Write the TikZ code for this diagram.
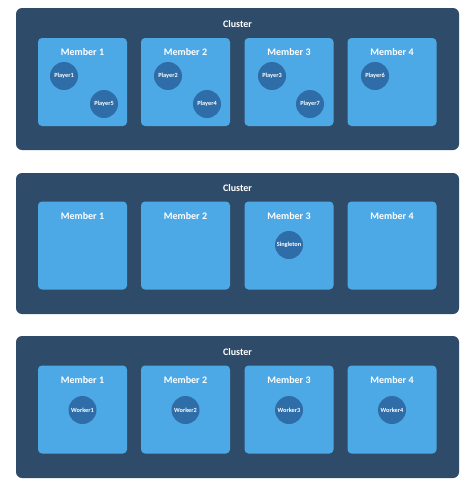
\documentclass[tikz,border=0pt]{standalone}
\usepackage{fontspec}
\setmainfont{Carlito}
\definecolor{clusterc}{HTML}{2E4B69}
\definecolor{memberc}{HTML}{4DA9E6}
\definecolor{circc}{HTML}{2E6DA8}
\tikzset{
  clusterbox/.style={fill=clusterc, rounded corners=6pt},
  memberbox/.style={fill=memberc, rounded corners=4pt, minimum width=89pt, minimum height=88pt, inner sep=0pt},
  titletext/.style={text=white, font=\bfseries\fontsize{10}{12}\selectfont, inner sep=0pt},
  actor/.style={circle, fill=circc, minimum size=28pt, inner sep=0pt, text=white, font=\bfseries\fontsize{6.3}{7}\selectfont}
}
\begin{document}
\begin{tikzpicture}[x=1pt,y=-1pt]
\useasboundingbox (0,0) rectangle (474,493);
% Cluster 1
\fill[clusterc, rounded corners=6pt] (16,8) rectangle (459,150);
\node[titletext] (c1t) at (237.5,24) {Cluster};
\node[memberbox] (a1) at (82.5,82) {};
\node[memberbox] (a2) at (185.5,82) {};
\node[memberbox] (a3) at (289,82) {};
\node[memberbox] (a4) at (392,82) {};
\node[titletext] (a1t) at (82.5,52) {Member 1};
\node[titletext] (a2t) at (185.5,52) {Member 2};
\node[titletext] (a3t) at (289,52) {Member 3};
\node[titletext] (a4t) at (392,52) {Member 4};
\node[actor] (p1) at (64,76) {Player1};
\node[actor] (p5) at (104,104) {Player5};
\node[actor] (p2) at (168,76) {Player2};
\node[actor] (p4) at (207,104) {Player4};
\node[actor] (p3) at (272,76) {Player3};
\node[actor] (p7) at (310,104) {Player7};
\node[actor] (p6) at (375,76) {Player6};
% Cluster 2
\fill[clusterc, rounded corners=6pt] (16,173) rectangle (459,314);
\node[titletext] (c2t) at (237.5,188) {Cluster};
\node[memberbox] (b1) at (82.5,245.5) {};
\node[memberbox] (b2) at (185.5,245.5) {};
\node[memberbox] (b3) at (289,245.5) {};
\node[memberbox] (b4) at (392,245.5) {};
\node[titletext] (b1t) at (82.5,216) {Member 1};
\node[titletext] (b2t) at (185.5,216) {Member 2};
\node[titletext] (b3t) at (289,216) {Member 3};
\node[titletext] (b4t) at (392,216) {Member 4};
\node[actor] (s) at (289,245) {Singleton};
% Cluster 3
\fill[clusterc, rounded corners=6pt] (16,336) rectangle (459,478);
\node[titletext] (c3t) at (237.5,352) {Cluster};
\node[memberbox] (d1) at (82.5,409.5) {};
\node[memberbox] (d2) at (185.5,409.5) {};
\node[memberbox] (d3) at (289,409.5) {};
\node[memberbox] (d4) at (392,409.5) {};
\node[titletext] (d1t) at (82.5,380) {Member 1};
\node[titletext] (d2t) at (185.5,380) {Member 2};
\node[titletext] (d3t) at (289,380) {Member 3};
\node[titletext] (d4t) at (392,380) {Member 4};
\node[actor] (w1) at (82.5,410) {Worker1};
\node[actor] (w2) at (185.5,410) {Worker2};
\node[actor] (w3) at (289,410) {Worker3};
\node[actor] (w4) at (392,410) {Worker4};
\end{tikzpicture}
\end{document}
